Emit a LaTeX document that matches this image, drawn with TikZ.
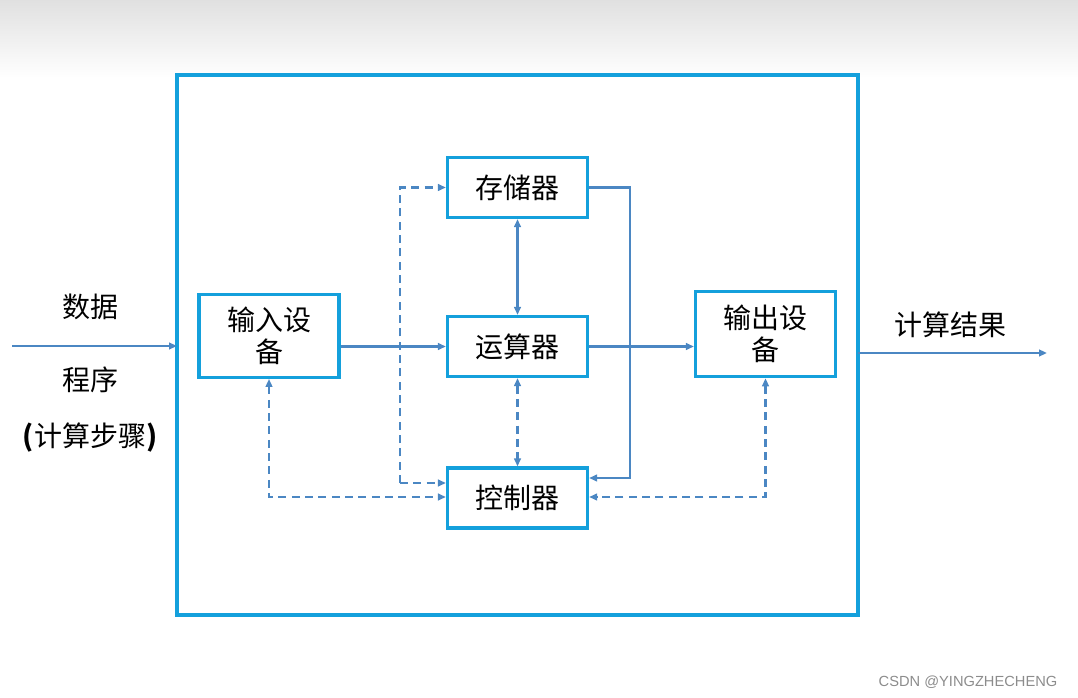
\documentclass[tikz,border=0pt]{standalone}
\usepackage{fontspec}
\setmainfont{Noto Sans CJK SC}
\setsansfont{Liberation Sans}
\usetikzlibrary{arrows.meta}
\definecolor{boxc}{RGB}{20,160,220}
\definecolor{linec}{RGB}{75,135,195}
\begin{document}
\begin{tikzpicture}[x=0.75pt,y=-0.75pt,
  box/.style={draw=boxc,line width=2.4pt,fill=white,minimum width=105pt,minimum height=45pt,inner sep=0pt,font=\fontsize{21}{24}\selectfont,align=center},
  ln/.style={draw=linec,line width=1.6pt,-{Triangle[length=6pt,width=5pt]}},
  dl/.style={ln,dash pattern=on 6pt off 4pt},
  lbl/.style={font=\fontsize{21}{24}\selectfont}]
\useasboundingbox (0,0) rectangle (1078,698);
\shade[top color=black!12,bottom color=white] (0,0) rectangle (1078,78);
\draw[boxc,line width=3pt] (177,75) rectangle (858,615);
\node[box] (mem) at (517.5,187.5) {存储器};
\node[box] (alu) at (517.5,346.5) {运算器};
\node[box] (ctl) at (517.5,498) {控制器};
\node[box,minimum height=62pt] (in) at (269,336) {输入设\\备};
\node[box,minimum height=64pt] (out) at (765.5,334) {输出设\\备};
\coordinate (src) at (12,346);
\coordinate (bin) at (177,346);
\coordinate (bout) at (858,353);
\coordinate (dst) at (1047,353);
\draw[ln] (src) -- (bin);
\draw[ln] (bout) -- (dst);
\node[lbl] (t1) at (90,307) {数据};
\node[lbl] (t2) at (90,380) {程序};
\node[lbl] (t3) at (90,438) {\textbf{(}计算步骤\textbf{)}};
\node[lbl] (t4) at (950,325) {计算结果};
\draw[ln] (in.east |- alu) -- (alu.west);
\draw[ln] (alu.east) -- (out.west |- alu);
\draw[ln,{Triangle[length=6pt,width=5pt]}-{Triangle[length=6pt,width=5pt]}] (mem.south) -- (alu.north);
\draw[ln] (mem.east) -- (630,187.5) -- (630,478) -- (ctl.east |- 0,478);
\draw[dl,{Triangle[length=6pt,width=5pt]}-{Triangle[length=6pt,width=5pt]}] (alu.south) -- (ctl.north);
\draw[dl] (400,483) -- (400,187.5) -- (mem.west);
\draw[dl] (400,483) -- (ctl.west |- 0,483);
\draw[dl,{Triangle[length=6pt,width=5pt]}-{Triangle[length=6pt,width=5pt]}] (in.south) -- (269,497) -- (ctl.west |- 0,497);
\draw[dl,{Triangle[length=6pt,width=5pt]}-{Triangle[length=6pt,width=5pt]}] (out.south) -- (765.5,497) -- (ctl.east |- 0,497);
\node[font=\sffamily\fontsize{11}{12}\selectfont,text=black!45] (wm) at (968,682) {CSDN @YINGZHECHENG};
\end{tikzpicture}
\end{document}
